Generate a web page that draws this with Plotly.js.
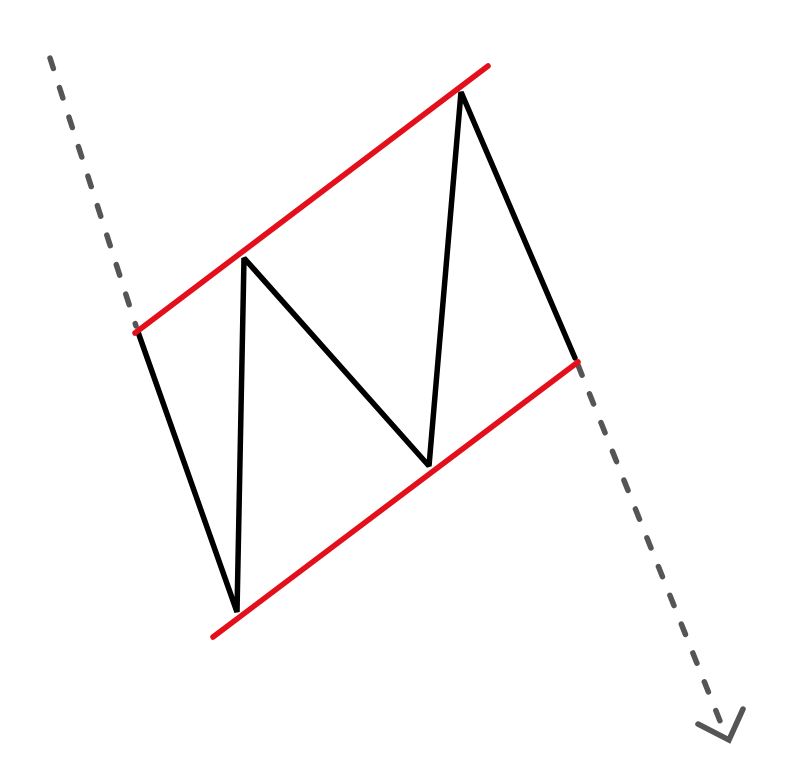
<!DOCTYPE html>
<html>
<head>
<meta charset="utf-8">
<script src="https://cdn.plot.ly/plotly-3.0.1.min.js"></script>
<style>
  html, body { margin: 0; padding: 0; background: #fff; }
  #chart { width: 788px; height: 781px; }
  /* the sketch uses rounded stroke ends */
  #chart .js-line { stroke-linecap: round; stroke-linejoin: miter; }
</style>
</head>
<body>
<div id="chart"></div>
<script>
// Bear flag sketch. Coordinates are in a 788 x 781 canvas, y measured downward.

// trend before and after the flag (dashed grey)
const trendInX = [50, 136];
const trendInY = [58, 326];
const trendOutX = [578, 722];
const trendOutY = [365, 726];
const arrowX = [698, 729, 743];
const arrowY = [724, 740, 709];

// price swings inside the flag
const swingX = [138, 237, 244, 429, 461, 575];
const swingY = [332, 612, 258, 466, 92, 358];

// channel boundaries
const upperX = [135, 488];
const upperY = [333, 66];
const lowerX = [213, 578];
const lowerY = [637, 362];

const GREY = "#555555";
const RED = "#e3101b";

function seg(x, y, color, dash) {
  return {
    x, y,
    type: "scatter",
    mode: "lines",
    line: { color, width: 5.5, dash: dash || "solid" },
    hoverinfo: "skip",
  };
}

const traces = [
  seg(trendInX, trendInY, GREY, "11px,20px"),
  seg(trendOutX, trendOutY, GREY, "11px,20px"),
  seg(arrowX, arrowY, GREY),
  seg(swingX, swingY, "#000000"),
  seg(upperX, upperY, RED),
  seg(lowerX, lowerY, RED),
];

const hidden = { visible: false, fixedrange: true };

Plotly.newPlot("chart", traces, {
  width: 788,
  height: 781,
  margin: { l: 0, r: 0, t: 0, b: 0 },
  paper_bgcolor: "#ffffff",
  plot_bgcolor: "#ffffff",
  showlegend: false,
  xaxis: Object.assign({ range: [0, 788] }, hidden),
  yaxis: Object.assign({ range: [781, 0] }, hidden),
}, { displayModeBar: false, staticPlot: true });
</script>
</body>
</html>
